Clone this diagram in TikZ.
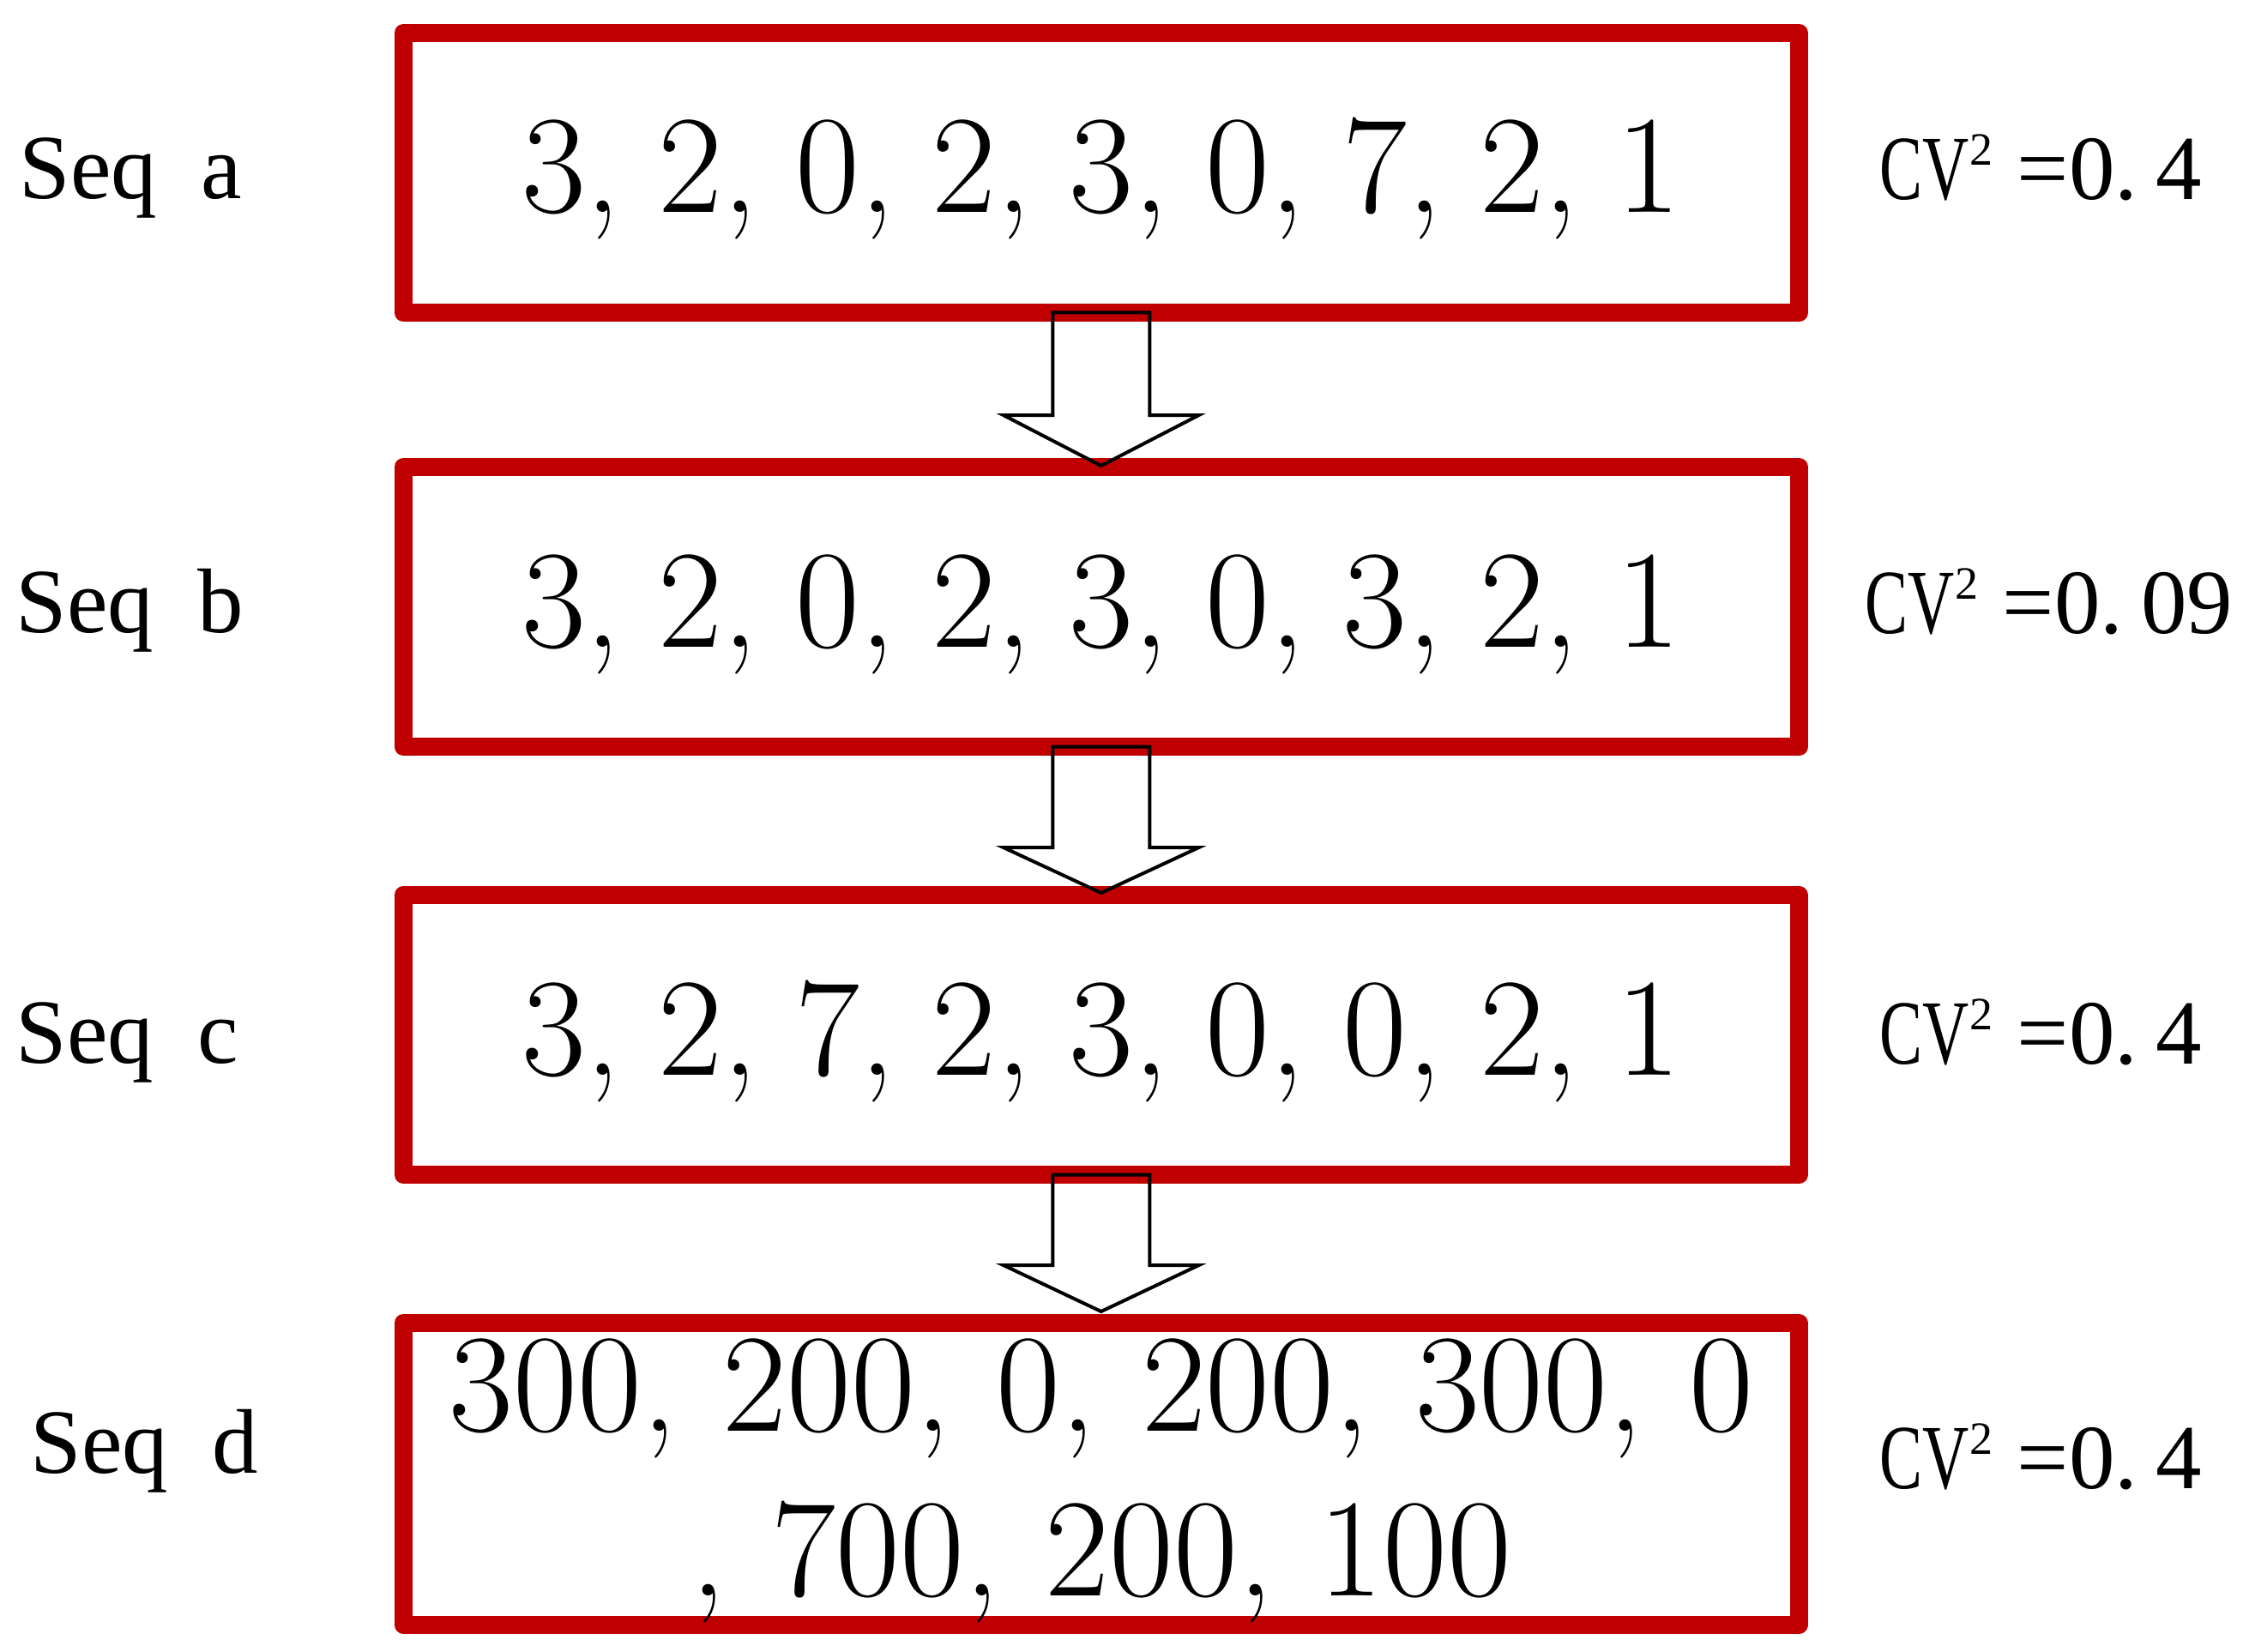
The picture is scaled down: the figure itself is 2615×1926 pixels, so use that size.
\documentclass[tikz,border=0pt]{standalone}
\usepackage{fontspec}
\usepackage{graphicx}
\usetikzlibrary{calc}
\newfontfamily\labfont{Liberation Serif}
\definecolor{boxred}{RGB}{192,0,0}
\newcommand\numsep{,\hspace{0.27em}}
\newcommand\numsepd{,\hspace{0.33em}}
\newcommand\cvtext[1]{\scalebox{0.7}[1]{CV}\hspace{0.25pt}\raisebox{10pt}{\fontsize{13.5pt}{14pt}\selectfont 2}\hspace{7pt}=0.\hspace{5.25pt}#1}
\newcommand\flowarrow[4]{%
  \draw[flow] ($(#1.south)+(-56.5,0)$) -- ($(#1.south)+(56.5,0)$)
    -- ($(#2.north)+(56.5,#3)$) -- ($(#2.north)+(114,#3)$)
    -- ($(#2.north)+(0,#4)$) -- ($(#2.north)+(-114,#3)$)
    -- ($(#2.north)+(-56.5,#3)$) -- cycle;}
\begin{document}
\begin{tikzpicture}[x=0.25pt, y=-0.25pt,
  seqbox/.style={draw=boxred, line width=5.25pt, line join=round, minimum width=406.875pt, inner sep=0pt, outer sep=0pt},
  numtext/.style={inner sep=0pt, font=\fontsize{40.75pt}{48pt}\selectfont},
  lab/.style={inner sep=0pt, anchor=base west, font=\labfont\fontsize{26.75pt}{32pt}\selectfont},
  flow/.style={draw=black, line width=1pt, line join=miter}]
\fill[white] (0,0) rectangle (2615,1926);
\useasboundingbox (0,0) rectangle (2615,1926);

\node[seqbox, minimum height=81.5pt] (a) at (1283.75,201.5) {};
\node[seqbox, minimum height=81.5pt] (b) at (1283.75,707.5) {};
\node[seqbox, minimum height=81.5pt] (c) at (1283.75,1206.5) {};
\node[seqbox, minimum height=87.875pt] (d) at (1283.75,1718.25) {};

\node[numtext, anchor=base] (ta) at ($(a.center)+(0,46.5)$) {3\numsep 2\numsep 0\numsep 2\numsep 3\numsep 0\numsep 7\numsep 2\numsep 1};
\node[numtext, anchor=base] (tb) at ($(b.center)+(0,46.5)$) {3\numsep 2\numsep 0\numsep 2\numsep 3\numsep 0\numsep 3\numsep 2\numsep 1};
\node[numtext, anchor=base] (tc) at ($(c.center)+(0,46.5)$) {3\numsep 2\numsep 7\numsep 2\numsep 3\numsep 0\numsep 0\numsep 2\numsep 1};
\node[numtext, anchor=base] (td) at ($(d.center)+(0,-50.25)$) {\begin{tabular}[t]{@{}c@{}}300\numsepd 200\numsepd 0\numsepd 200\numsepd 300\numsepd 0\\ \numsepd 700\numsepd 200\numsepd 100\end{tabular}};

\node[lab] (la) at (22,232) {Seq\hspace{0.48em}a};
\node[lab] (lb) at (18,737) {Seq\hspace{0.48em}b};
\node[lab] (lc) at (18,1239) {Seq\hspace{0.48em}c};
\node[lab] (ld) at (35,1717) {Seq\hspace{0.48em}d};

\node[lab] (cva) at (2191,233) {\cvtext{4}};
\node[lab] (cvb) at (2174,738) {\cvtext{09}};
\node[lab] (cvc) at (2191,1240) {\cvtext{4}};
\node[lab] (cvd) at (2191,1735) {\cvtext{4}};

\flowarrow{a}{b}{-60.5}{-1.5}
\flowarrow{b}{c}{-55.5}{-2.5}
\flowarrow{c}{d}{-67.5}{-13.5}
\end{tikzpicture}
\end{document}
